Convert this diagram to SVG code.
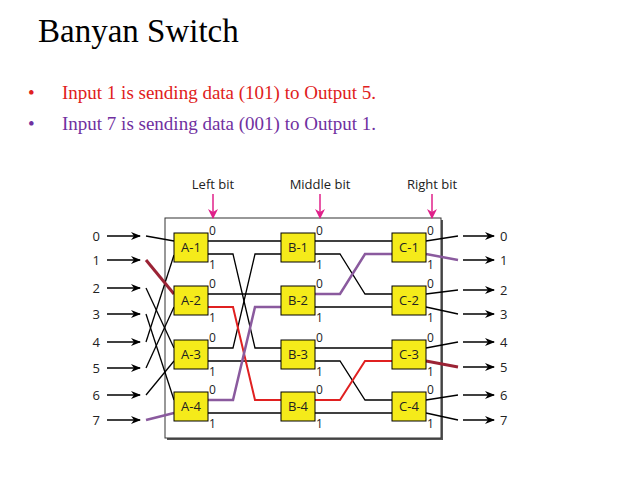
<svg xmlns="http://www.w3.org/2000/svg" width="638" height="478" viewBox="0 0 638 478">
<defs>
<marker id="ah" markerWidth="10" markerHeight="8" refX="9" refY="4" orient="auto" markerUnits="userSpaceOnUse"><path d="M0,0 L10,4 L0,8 L3,4 Z" fill="#000"/></marker>
<marker id="pk" markerWidth="10" markerHeight="10" refX="9" refY="5" orient="auto" markerUnits="userSpaceOnUse"><path d="M0,0 L10,5 L0,10 L3,5 Z" fill="#e0218a"/></marker>
<style>
.t{font-family:"Liberation Serif",serif}
.s{font-family:"Open Sans","DejaVu Sans",sans-serif;font-size:13px;fill:#222}
.box{fill:#f5eb1a;stroke:#000;stroke-width:1}
.w{fill:none;stroke:#000;stroke-width:1.3}
.r{fill:none;stroke:#e02020;stroke-width:2}
.dr{fill:none;stroke:#9b2335;stroke-width:3}
.p{fill:none;stroke:#8a5a9e;stroke-width:2.5}
.a{stroke:#000;stroke-width:1.5;marker-end:url(#ah)}
.pa{stroke:#e0218a;stroke-width:1.5;marker-end:url(#pk)}
.n{font-family:"Open Sans","DejaVu Sans",sans-serif;font-size:12px;fill:#222}
</style>
</defs>
<rect width="638" height="478" fill="#fff"/>
<text class="t" x="38" y="42" font-size="33">Banyan Switch</text>
<text class="t" x="28" y="99" font-size="19" fill="#e02020">•</text>
<text class="t" x="62" y="99" font-size="19" fill="#e02020">Input 1 is sending data (101) to Output 5.</text>
<text class="t" x="28" y="130" font-size="19" fill="#7030a0">•</text>
<text class="t" x="62" y="130" font-size="19" fill="#7030a0">Input 7 is sending data (001) to Output 1.</text>

<g id="frame">
<rect x="167" y="220" width="276" height="220" fill="#555"/>
<rect x="165" y="218" width="276" height="220" fill="#fff" stroke="#333" stroke-width="1"/>
</g>
<g id="bits" class="s">
<text x="213" y="189" text-anchor="middle">Left bit</text>
<text x="320" y="189" text-anchor="middle">Middle bit</text>
<text x="432" y="189" text-anchor="middle">Right bit</text>
<line class="pa" x1="213" y1="194" x2="213" y2="218"/>
<line class="pa" x1="320" y1="194" x2="320" y2="218"/>
<line class="pa" x1="432" y1="194" x2="432" y2="218"/>
</g>

<g id="connectors">
<g class="s" font-size="14">
<text x="100" y="241" text-anchor="end">0</text><text x="100" y="265" text-anchor="end">1</text>
<text x="100" y="293" text-anchor="end">2</text><text x="100" y="319" text-anchor="end">3</text>
<text x="100" y="347" text-anchor="end">4</text><text x="100" y="373" text-anchor="end">5</text>
<text x="100" y="400" text-anchor="end">6</text><text x="100" y="425" text-anchor="end">7</text>
<text x="500" y="241">0</text><text x="500" y="265">1</text>
<text x="500" y="295">2</text><text x="500" y="319">3</text>
<text x="500" y="347">4</text><text x="500" y="372">5</text>
<text x="500" y="400">6</text><text x="500" y="425">7</text>
</g>
<line class="a" x1="107" y1="236" x2="140" y2="236"/><line class="a" x1="107" y1="260" x2="140" y2="260"/>
<line class="a" x1="107" y1="288" x2="140" y2="288"/><line class="a" x1="107" y1="314" x2="140" y2="314"/>
<line class="a" x1="107" y1="342" x2="140" y2="342"/><line class="a" x1="107" y1="368" x2="140" y2="368"/>
<line class="a" x1="107" y1="395" x2="140" y2="395"/><line class="a" x1="107" y1="420" x2="140" y2="420"/>
<line class="a" x1="463" y1="236" x2="494" y2="236"/><line class="a" x1="463" y1="260" x2="494" y2="260"/>
<line class="a" x1="463" y1="290" x2="494" y2="290"/><line class="a" x1="463" y1="314" x2="494" y2="314"/>
<line class="a" x1="463" y1="342" x2="494" y2="342"/><line class="a" x1="463" y1="367" x2="494" y2="367"/>
<line class="a" x1="463" y1="395" x2="494" y2="395"/><line class="a" x1="463" y1="420" x2="494" y2="420"/>
<path class="w" d="M146,236 L174,241"/>
<path class="w" d="M146,288 L174,348"/>
<path class="w" d="M146,314 L174,400"/>
<path class="w" d="M146,342 L174,255"/>
<path class="w" d="M146,368 L174,307"/>
<path class="w" d="M146,395 L174,361"/>
<path class="dr" d="M146,260 L174,294"/>
<path class="p" d="M146,420 L174,413"/>
<path class="w" d="M208,241 H281"/>
<path class="w" d="M208,254 H233 L255,348 H281"/>
<path class="w" d="M208,294 H281"/>
<path class="w" d="M208,348 H233 L255,254 H281"/>
<path class="w" d="M208,361 H281"/>
<path class="w" d="M208,413 H281"/>
<path class="r" d="M208,307 H233 L255,400 H281"/>
<path class="p" d="M208,400 H233 L255,307 H281"/>
<path class="w" d="M315,241 H392"/>
<path class="w" d="M315,254 H340 L365,294 H392"/>
<path class="w" d="M315,307 H392"/>
<path class="w" d="M315,348 H392"/>
<path class="w" d="M315,361 H340 L365,400 H392"/>
<path class="w" d="M315,413 H392"/>
<path class="p" d="M315,294 H340 L365,254 H392"/>
<path class="r" d="M315,400 H340 L365,361 H392"/>
<path class="w" d="M426,241 L458,236"/>
<path class="w" d="M426,294 L458,290"/>
<path class="w" d="M426,307 L458,314"/>
<path class="w" d="M426,348 L458,342"/>
<path class="w" d="M426,400 L458,395"/>
<path class="w" d="M426,413 L458,420"/>
<path class="p" d="M426,254 L458,260"/>
<path class="dr" d="M426,361 L458,367"/>
</g>

<g id="A-1"><rect class="box" x="174" y="233" width="34" height="29"/><text class="s" x="191" y="252" text-anchor="middle">A-1</text><text class="n" x="209" y="235">0</text><text class="n" x="209" y="269">1</text></g>
<g id="A-2"><rect class="box" x="174" y="286" width="34" height="29"/><text class="s" x="191" y="305" text-anchor="middle">A-2</text><text class="n" x="209" y="288">0</text><text class="n" x="209" y="322">1</text></g>
<g id="A-3"><rect class="box" x="174" y="340" width="34" height="29"/><text class="s" x="191" y="359" text-anchor="middle">A-3</text><text class="n" x="209" y="342">0</text><text class="n" x="209" y="376">1</text></g>
<g id="A-4"><rect class="box" x="174" y="392" width="34" height="29"/><text class="s" x="191" y="411" text-anchor="middle">A-4</text><text class="n" x="209" y="394">0</text><text class="n" x="209" y="428">1</text></g>
<g id="B-1"><rect class="box" x="281" y="233" width="34" height="29"/><text class="s" x="298" y="252" text-anchor="middle">B-1</text><text class="n" x="316" y="235">0</text><text class="n" x="316" y="269">1</text></g>
<g id="B-2"><rect class="box" x="281" y="286" width="34" height="29"/><text class="s" x="298" y="305" text-anchor="middle">B-2</text><text class="n" x="316" y="288">0</text><text class="n" x="316" y="322">1</text></g>
<g id="B-3"><rect class="box" x="281" y="340" width="34" height="29"/><text class="s" x="298" y="359" text-anchor="middle">B-3</text><text class="n" x="316" y="342">0</text><text class="n" x="316" y="376">1</text></g>
<g id="B-4"><rect class="box" x="281" y="392" width="34" height="29"/><text class="s" x="298" y="411" text-anchor="middle">B-4</text><text class="n" x="316" y="394">0</text><text class="n" x="316" y="428">1</text></g>
<g id="C-1"><rect class="box" x="392" y="233" width="34" height="29"/><text class="s" x="409" y="252" text-anchor="middle">C-1</text><text class="n" x="427" y="235">0</text><text class="n" x="427" y="269">1</text></g>
<g id="C-2"><rect class="box" x="392" y="286" width="34" height="29"/><text class="s" x="409" y="305" text-anchor="middle">C-2</text><text class="n" x="427" y="288">0</text><text class="n" x="427" y="322">1</text></g>
<g id="C-3"><rect class="box" x="392" y="340" width="34" height="29"/><text class="s" x="409" y="359" text-anchor="middle">C-3</text><text class="n" x="427" y="342">0</text><text class="n" x="427" y="376">1</text></g>
<g id="C-4"><rect class="box" x="392" y="392" width="34" height="29"/><text class="s" x="409" y="411" text-anchor="middle">C-4</text><text class="n" x="427" y="394">0</text><text class="n" x="427" y="428">1</text></g>
</svg>
